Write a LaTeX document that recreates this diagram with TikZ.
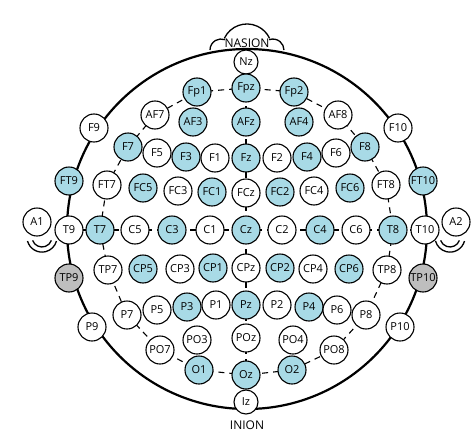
\documentclass[tikz,border=0pt]{standalone}
\usepackage{fontspec}
\setmainfont{Open Sans}
\usetikzlibrary{backgrounds}
\definecolor{elecblue}{RGB}{168,218,230}
\definecolor{elecgray}{RGB}{190,190,190}

\begin{document}
\begin{tikzpicture}[x=1pt, y=-1pt,
        elec/.style={circle, draw, line width=1.1pt, fill=white, minimum size=28pt, inner sep=0pt, font=\fontsize{11}{11}\selectfont},
        act/.style={elec, fill=elecblue},
        refel/.style={elec, fill=elecgray},
        mini/.style={elec, minimum size=24pt},
        ring/.style={line width=1.1pt, dash pattern=on 6pt off 5pt},
        head/.style={line width=2.2pt}]
        \useasboundingbox (0,0) rectangle (474,434);

        % midline
        \node[mini]  (Nz)  at (246,62)  {Nz};
        \node[act]   (Fpz) at (246,88)  {Fpz};
        \node[act]   (AFz) at (246,122) {AFz};
        \node[act]   (Fz)  at (246,158) {Fz};
        \node[elec]  (FCz) at (246,193) {FCz};
        \node[act]   (Cz)  at (246,230) {Cz};
        \node[elec]  (CPz) at (246,268) {CPz};
        \node[act]   (Pz)  at (246,305) {Pz};
        \node[elec]  (POz) at (246,338) {POz};
        \node[act]   (Oz)  at (246,375) {Oz};
        \node[mini]  (Iz)  at (246,402) {Iz};

        % frontal
        \node[act]   (Fp1) at (197,92)  {Fp1};
        \node[act]   (Fp2) at (294,92)  {Fp2};
        \node[elec]  (AF7) at (155,115) {AF7};
        \node[act]   (AF3) at (193,122) {AF3};
        \node[act]   (AF4) at (299,122) {AF4};
        \node[elec]  (AF8) at (338,115) {AF8};
        \node[elec]  (F9)  at (94,128)  {F9};
        \node[act]   (F7)  at (128,147) {F7};
        \node[elec]  (F5)  at (157,153) {F5};
        \node[act]   (F3)  at (186,157) {F3};
        \node[elec]  (F1)  at (215,158) {F1};
        \node[elec]  (F2)  at (277,158) {F2};
        \node[act]   (F4)  at (307,157) {F4};
        \node[elec]  (F6)  at (336,153) {F6};
        \node[act]   (F8)  at (365,147) {F8};
        \node[elec]  (F10) at (398,128) {F10};

        % fronto-central
        \node[act]   (FT9)  at (69,181)  {FT9};
        \node[elec]  (FT7)  at (107,185) {FT7};
        \node[act]   (FC5)  at (143,188) {FC5};
        \node[elec]  (FC3)  at (178,191) {FC3};
        \node[act]   (FC1)  at (212,192) {FC1};
        \node[act]   (FC2)  at (280,192) {FC2};
        \node[elec]  (FC4)  at (314,191) {FC4};
        \node[act]   (FC6)  at (350,188) {FC6};
        \node[elec]  (FT8)  at (386,185) {FT8};
        \node[act]   (FT10) at (423,181) {FT10};

        % central
        \node[elec]  (A1)  at (37,222)  {A1};
        \node[elec]  (T9)  at (69,230)  {T9};
        \node[act]   (T7)  at (100,230) {T7};
        \node[elec]  (C5)  at (135,230) {C5};
        \node[act]   (C3)  at (172,230) {C3};
        \node[elec]  (C1)  at (210,230) {C1};
        \node[elec]  (C2)  at (282,230) {C2};
        \node[act]   (C4)  at (320,230) {C4};
        \node[elec]  (C6)  at (356,230) {C6};
        \node[act]   (T8)  at (393,230) {T8};
        \node[elec]  (T10) at (425,230) {T10};
        \node[elec]  (A2)  at (456,222) {A2};

        % centro-parietal
        \node[refel] (TP9)  at (69,278)  {TP9};
        \node[elec]  (TP7)  at (108,270) {TP7};
        \node[act]   (CP5)  at (143,269) {CP5};
        \node[elec]  (CP3)  at (180,269) {CP3};
        \node[act]   (CP1)  at (213,268) {CP1};
        \node[act]   (CP2)  at (280,268) {CP2};
        \node[elec]  (CP4)  at (313,269) {CP4};
        \node[act]   (CP6)  at (349,269) {CP6};
        \node[elec]  (TP8)  at (387,270) {TP8};
        \node[refel] (TP10) at (423,278) {TP10};

        % parietal, occipital
        \node[elec]  (P9)  at (92,327)  {P9};
        \node[elec]  (P7)  at (127,315) {P7};
        \node[elec]  (P5)  at (157,310) {P5};
        \node[act]   (P3)  at (187,307) {P3};
        \node[elec]  (P1)  at (216,305) {P1};
        \node[elec]  (P2)  at (277,305) {P2};
        \node[act]   (P4)  at (309,307) {P4};
        \node[elec]  (P6)  at (337,310) {P6};
        \node[elec]  (P8)  at (366,315) {P8};
        \node[elec]  (P10) at (400,327) {P10};
        \node[elec]  (PO7) at (160,350) {PO7};
        \node[elec]  (PO3) at (197,340) {PO3};
        \node[elec]  (PO4) at (293,340) {PO4};
        \node[elec]  (PO8) at (334,350) {PO8};
        \node[act]   (O1)  at (199,370) {O1};
        \node[act]   (O2)  at (292,370) {O2};

        \node (nasion) at (247,43)  {\fontsize{12}{12}\selectfont NASION};
        \node (inion)  at (247,425) {\fontsize{12}{12}\selectfont INION};

        % nose
        \draw[line width=1.3pt] (210,50) arc[start angle=180, end angle=290, radius=11];
        \draw[line width=1.3pt] (224.3,38.4) arc[start angle=205, end angle=335, radius=25];
        \draw[line width=1.3pt] (269.2,39.7) arc[start angle=250, end angle=360, radius=11];

        % ears
        \draw[line width=1.3pt] (27.5,241) arc[start angle=165, end angle=15, radius=15];
        \draw[line width=1.3pt] (32.6,240.4) arc[start angle=160, end angle=20, radius=10];
        \draw[line width=1.3pt] (464.5,241) arc[start angle=15, end angle=165, radius=15];
        \draw[line width=1.3pt] (459.4,240.4) arc[start angle=20, end angle=160, radius=10];

        \begin{scope}[on background layer]
        \draw[head] (247,229) circle[radius=180];
        \draw[ring] (Fpz.center) -- (Fp1.center) -- (AF7.center) -- (F7.center) -- (FT7.center)
            -- (T7.center) -- (TP7.center) -- (P7.center) -- (PO7.center) -- (O1.center)
            -- (Oz.center) -- (O2.center) -- (PO8.center) -- (P8.center) -- (TP8.center)
            -- (T8.center) -- (FT8.center) -- (F8.center) -- (AF8.center) -- (Fp2.center) -- cycle;
        \draw[ring] (Nz.center) -- (Iz.center);
        \draw[ring] (T9.center) -- (T10.center);
        \end{scope}
\end{tikzpicture}
\end{document}
